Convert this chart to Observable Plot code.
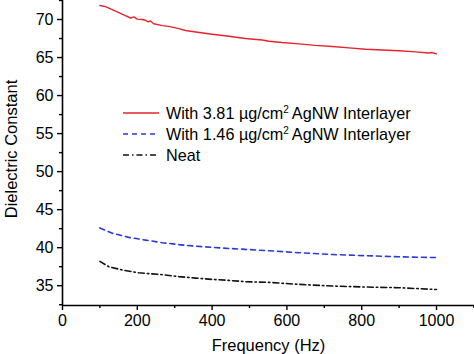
<!DOCTYPE html>
<html>
<head>
<meta charset="utf-8">
<script src="https://cdn.jsdelivr.net/npm/d3@7"></script>
<script src="https://cdn.jsdelivr.net/npm/@observablehq/plot@0.6"></script>
<style>
  html, body { margin: 0; padding: 0; background: #fff; }
  #wrap { position: relative; width: 474px; height: 354px; font-family: "Liberation Sans", Arial, Helvetica, sans-serif; }
  .leg { position: absolute; left: 123px; height: 20px; display: flex; align-items: center; font-size: 16.2px; color: #000; white-space: nowrap; }
  .leg svg { margin-right: 6px; }
  .leg sup { font-size: 10px; vertical-align: 6px; line-height: 0; margin-right: 3px; }
</style>
</head>
<body>
<div id="wrap"></div>
<script>
// ---- data ----
const redFreq = [100, 115, 142, 168, 182, 191, 200, 213, 222, 229, 235, 244, 267, 284, 311, 329, 356, 400, 445, 489, 534, 552, 587, 632, 676, 721, 766, 810, 855, 899, 944, 979, 988, 1000];
const redVal  = [71.85, 71.7, 71.1, 70.5, 70.2, 70.35, 70.05, 70.0, 69.9, 69.7, 69.8, 69.45, 69.2, 69.1, 68.8, 68.55, 68.35, 68.07, 67.8, 67.5, 67.3, 67.15, 66.97, 66.8, 66.6, 66.45, 66.27, 66.1, 66.0, 65.9, 65.75, 65.6, 65.66, 65.49];

const blueFreq = [100, 133, 177, 222, 267, 311, 356, 400, 445, 489, 552, 632, 721, 810, 899, 1000];
const blueVal  = [42.6, 41.9, 41.36, 41.0, 40.66, 40.4, 40.2, 40.04, 39.9, 39.78, 39.6, 39.34, 39.1, 38.95, 38.8, 38.7];

const blackFreq = [100, 124, 160, 204, 267, 311, 356, 400, 445, 489, 552, 632, 721, 810, 899, 979, 1000];
const blackVal  = [38.2, 37.5, 37.07, 36.7, 36.45, 36.2, 36.0, 35.83, 35.7, 35.53, 35.44, 35.18, 34.96, 34.83, 34.74, 34.55, 34.5];

const seriesNames = ["With 3.81 µg/cm² AgNW Interlayer", "With 1.46 µg/cm² AgNW Interlayer", "Neat"];

const xMajor = [0, 200, 400, 600, 800, 1000];
const xMinor = [100, 300, 500, 700, 900, 1100];
const yMajor = [35, 40, 45, 50, 55, 60, 65, 70];
const yMinor = [32.5, 37.5, 42.5, 47.5, 52.5, 57.5, 62.5, 67.5, 72.5];

const xDomain = [0, 1101.6];
const yDomain = [32.4, 72.5];

const xTitle = "Frequency (Hz)";
const yTitle = "Dielectric Constant";

// ---- build tables ----
const red = redFreq.map((f, i) => ({f, v: redVal[i]}));
const blue = blueFreq.map((f, i) => ({f, v: blueVal[i]}));
const black = blackFreq.map((f, i) => ({f, v: blackVal[i]}));

const styles = [
  {stroke: "#e8232b", dash: null, width: 1.4},
  {stroke: "#2a3ad8", dash: "5,4", width: 1.6},
  {stroke: "#111111", dash: "6,3,1.5,3", width: 1.6}
];

const chart = Plot.plot({
  width: 474,
  height: 354,
  marginLeft: 62,
  marginRight: 0,
  marginTop: 0,
  marginBottom: 49,
  style: {fontFamily: '"Liberation Sans", Arial, Helvetica, sans-serif', fontSize: "16px", color: "#000", background: "#fff", overflow: "visible"},
  x: {domain: xDomain},
  y: {domain: yDomain},
  marks: [
    Plot.axisX(xMajor, {tickSize: 5, tickPadding: 4, strokeWidth: 1.4, label: null, fontSize: 16, tickFormat: d => String(d)}),
    Plot.axisX(xMinor, {tickSize: 3, strokeWidth: 1.4, tickFormat: () => "", label: null}),
    Plot.axisY(yMajor, {tickSize: 5, tickPadding: 4, strokeWidth: 1.4, label: null, fontSize: 16, tickFormat: d => String(d)}),
    Plot.axisY(yMinor, {tickSize: 3, strokeWidth: 1.4, tickFormat: () => "", label: null}),
    Plot.ruleX([xDomain[0]], {strokeWidth: 1.6}),
    Plot.ruleY([yDomain[0]], {strokeWidth: 1.6}),
    Plot.line(red, {x: "f", y: "v", stroke: styles[0].stroke, strokeWidth: styles[0].width}),
    Plot.line(blue, {x: "f", y: "v", stroke: styles[1].stroke, strokeWidth: styles[1].width, strokeDasharray: styles[1].dash}),
    Plot.line(black, {x: "f", y: "v", stroke: styles[2].stroke, strokeWidth: styles[2].width, strokeDasharray: styles[2].dash}),
    Plot.text([xTitle], {text: d => d, frameAnchor: "bottom", textAnchor: "middle", lineAnchor: "middle", dy: 40, fontSize: 16.5}),
    Plot.text([yTitle], {text: d => d, frameAnchor: "left", textAnchor: "middle", lineAnchor: "middle", dx: -51, dy: -4, rotate: -90, fontSize: 16.5})
  ]
});

const wrap = document.getElementById("wrap");
wrap.appendChild(chart);

// ---- legend (HTML overlay inside plot area) ----
const rowTops = [103, 124, 145];
seriesNames.forEach((name, i) => {
  const row = document.createElement("div");
  row.className = "leg";
  row.style.top = rowTops[i] + "px";
  const s = styles[i];
  const svgNS = "http://www.w3.org/2000/svg";
  const svg = document.createElementNS(svgNS, "svg");
  svg.setAttribute("width", "37");
  svg.setAttribute("height", "20");
  const ln = document.createElementNS(svgNS, "line");
  ln.setAttribute("x1", "0"); ln.setAttribute("x2", "36");
  ln.setAttribute("y1", "10"); ln.setAttribute("y2", "10");
  ln.setAttribute("stroke", s.stroke);
  ln.setAttribute("stroke-width", s.width);
  if (s.dash) ln.setAttribute("stroke-dasharray", s.dash);
  svg.appendChild(ln);
  row.appendChild(svg);
  const span = document.createElement("span");
  const parts = name.split("²");
  if (parts.length === 2) {
    span.appendChild(document.createTextNode(parts[0]));
    const sup = document.createElement("sup");
    sup.textContent = "2";
    span.appendChild(sup);
    span.appendChild(document.createTextNode(parts[1].replace(/^ /, "")));
  } else {
    span.textContent = name;
  }
  row.appendChild(span);
  wrap.appendChild(row);
});
</script>
</body>
</html>
